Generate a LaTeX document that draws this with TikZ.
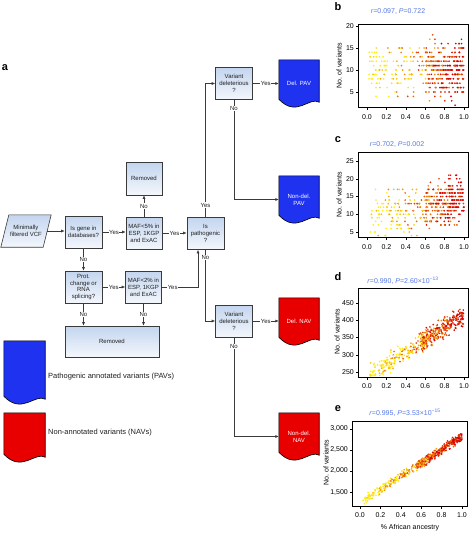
\documentclass[tikz,border=0pt]{standalone}
\usepackage{fontspec}
\setmainfont{Liberation Sans}
\usetikzlibrary{arrows.meta,calc,backgrounds}
\definecolor{linec}{HTML}{3A3A3A}
\definecolor{txtc}{HTML}{202020}
\definecolor{flowA}{HTML}{C3D5EF}
\definecolor{flowB}{HTML}{F4F7FC}
\definecolor{pavblue}{HTML}{1E32F0}
\definecolor{navred}{HTML}{E80000}
\definecolor{pred}{HTML}{D80000}
\definecolor{pyel}{HTML}{FFEE10}
\definecolor{ttlc}{HTML}{5577E6}
\newcommand{\docshape}[2]{\path[fill=#2,draw=black,line width=0.6pt] (#1.north west) -- (#1.north east) -- ($(#1.south east)+(0,-5)$) .. controls ($(#1.south east)+(-10,-11)$) and ($(#1.south west)+(18,11)$) .. ($(#1.south west)+(0,-8)$) -- cycle;}
\begin{document}
\begin{tikzpicture}[x=1pt,y=-1pt,
  fbox/.style={draw=linec,line width=0.6pt,top color=flowA,bottom color=flowB,minimum width=37pt,minimum height=32pt,inner sep=0.5pt,align=center,text=txtc,font=\fontsize{6}{6.9}\selectfont},
  conn/.style={draw=linec,line width=0.6pt,-{Latex[length=3.5pt,width=3pt]}},
  lab/.style={fill=white,inner sep=0.6pt,text=txtc,font=\fontsize{6}{7}\selectfont},
  docn/.style={minimum width=40pt,minimum height=47pt,inner sep=0pt,align=center,text=white,font=\fontsize{6}{7}\selectfont},
  tick/.style={font=\fontsize{7}{8}\selectfont,text=black},
  ttl/.style={font=\fontsize{7}{8}\selectfont,text=ttlc},
  plet/.style={font=\bfseries\fontsize{11}{12}\selectfont},
  axbox/.style={draw=black,line width=0.5pt},
  ylab/.style={font=\fontsize{7}{8}\selectfont,rotate=90}]
\useasboundingbox (0,0) rectangle (474,536);

% ---------- flowchart ----------
\node[plet] (la) at (5,68) {a};
\node[inner sep=0pt,minimum width=42pt,minimum height=32pt,align=center,text=txtc,font=\fontsize{6}{6.9}\selectfont] (vcf) at (26,231) {Minimally\\filtered VCF};
\node[fbox] (gene) at (83.5,232) {Is gene in\\databases?};
\node[fbox,minimum width=36pt] (maf5) at (144,233) {MAF<5\% in\\ESP, 1KGP\\and ExAC};
\node[fbox,minimum width=36pt,minimum height=33pt] (rem1) at (144,178.5) {Removed};
\node[fbox] (path) at (205.5,233.5) {Is\\pathogenic\\?};
\node[fbox] (vd1) at (234,83.5) {Variant\\deleterious\\?};
\node[fbox,font=\fontsize{6}{6.6}\selectfont] (prot) at (83.5,287) {Prot.\\change or\\RNA\\splicing?};
\node[fbox,minimum width=36pt] (maf2) at (143.5,287) {MAF<2\% in\\ESP, 1KGP\\and ExAC};
\node[fbox,minimum width=94pt,minimum height=31pt] (rem2) at (112,341.5) {Removed};
\node[fbox] (vd2) at (234,321) {Variant\\deleterious\\?};

\node[docn] (dpav) at (299,83.5) {Del. PAV};
\node[docn] (ndpav) at (299,199.5) {Non-del.\\PAV};
\node[docn] (dnav) at (299,321.5) {Del. NAV};
\node[docn] (ndnav) at (299,436.5) {Non-del.\\NAV};

\node[docn,minimum width=41pt,minimum height=63pt] (lpav) at (24.5,372.5) {};
\node[docn,minimum width=41pt,minimum height=49pt] (lnav) at (24.5,437.5) {};
\node[anchor=west,inner sep=0pt,text=txtc,font=\fontsize{7.5}{8}\selectfont] (lt1) at (48,377) {Pathogenic annotated variants (PAVs)};
\node[anchor=west,inner sep=0pt,text=txtc,font=\fontsize{7.5}{8}\selectfont] (lt2) at (48,433) {Non-annotated variants (NAVs)};

\begin{scope}[on background layer]
  \path[draw=linec,line width=0.6pt,top color=flowA,bottom color=flowB]
    ($(vcf.south west)+(-4,0)$) -- ($(vcf.north west)+(4,0)$) -- ($(vcf.north east)+(4,0)$) -- ($(vcf.south east)+(-4,0)$) -- cycle;
  \docshape{dpav}{pavblue}
  \docshape{ndpav}{pavblue}
  \docshape{dnav}{navred}
  \docshape{ndnav}{navred}
  \docshape{lpav}{pavblue}
  \docshape{lnav}{navred}
\end{scope}

\coordinate (pin) at ($(path.south)+(-7.5,0)$);
\draw[conn] (vcf.east) -- (vcf.east -| gene.west);
\draw[conn] (gene.east) -- node[lab]{Yes} (gene.east -| maf5.west);
\draw[conn] (gene.south) -- node[lab]{No} (prot.north);
\draw[conn] (maf5.east) -- node[lab]{Yes} (maf5.east -| path.west);
\draw[conn] (maf5.north) -- node[lab]{No} (rem1.south);
\draw[conn] (prot.east) -- node[lab]{Yes} (prot.east -| maf2.west);
\draw[conn] (prot.south) -- node[lab]{No} (prot.south |- rem2.north);
\draw[conn] (maf2.south) -- node[lab]{No} (maf2.south |- rem2.north);
\draw[conn] (maf2.east) -| node[lab,pos=0.15]{Yes} (pin);
\draw[conn] (path.north) |- node[lab,pos=0.045]{Yes} (vd1.west);
\draw[conn] (path.south) |- node[lab,pos=0.055]{No} (vd2.west);
\draw[conn] (vd1.east) -- node[lab]{Yes} (vd1.east -| dpav.west);
\draw[conn] (vd1.south) |- node[lab,pos=0.045]{No} (ndpav.west);
\draw[conn] (vd2.east) -- node[lab]{Yes} (vd2.east -| dnav.west);
\draw[conn] (vd2.south) |- node[lab,pos=0.045]{No} (ndnav.west);

% ---------- panel b ----------
\node[plet] (lb) at (338,7) {b};
\node[ttl] (tb) at (398,12) {\textit{r}=0.097, \textit{P}=0.722};
\node[ylab] (yb) at (339,66) {No. of variants};
\pgfmathsetseed{11}
\foreach \i in {1,...,430}{
  \pgfmathsetmacro{\xa}{rnd<0.3 ? 0.02+0.58*rnd : 0.6+0.4*rnd}
  \pgfmathsetmacro{\yv}{max(2,min(20,round(10+3.0*(rand+rand+rand))))}
  \pgfmathtruncatemacro{\p}{max(0,min(100,140*\xa-30+45*rand))}
  \fill[pred!\p!pyel] ({367+97*\xa},{92-4.4*(\yv-5)}) circle[radius=0.95pt];
}
\draw[axbox] (358,24) rectangle (468,107);
\foreach \v/\l [count=\k] in {0/0.0,0.2/0.2,0.4/0.4,0.6/0.6,0.8/0.8,1/1.0}{
  \draw[line width=0.4pt] ({367+97*\v},107) -- ({367+97*\v},109.5);
  \node[tick] (bx\k) at ({367+97*\v},117) {\l};
}
\foreach \v [count=\k] in {5,10,15,20}{
  \draw[line width=0.4pt] (358,{92-4.4*(\v-5)}) -- (355.5,{92-4.4*(\v-5)});
  \node[tick,anchor=east,inner sep=1pt] (by\k) at (355,{92-4.4*(\v-5)}) {\v};
}

% ---------- panel c ----------
\node[plet] (lc) at (338,140) {c};
\node[ttl] (tc) at (397,145) {\textit{r}=0.702, \textit{P}=0.002};
\node[ylab] (yc) at (339,195) {No. of variants};
\pgfmathsetseed{23}
\foreach \i in {1,...,430}{
  \pgfmathsetmacro{\xa}{rnd<0.35 ? 0.02+0.6*rnd : 0.6+0.4*rnd}
  \pgfmathsetmacro{\yv}{max(3,min(27,round(8.5+6*\xa+3.0*(rand+rand+rand))))}
  \pgfmathtruncatemacro{\p}{max(0,min(100,140*\xa-30+45*rand))}
  \fill[pred!\p!pyel] ({367+97*\xa},{232-3.55*(\yv-5)}) circle[radius=0.95pt];
}
\draw[axbox] (358,152) rectangle (468,237);
\foreach \v/\l [count=\k] in {0/0.0,0.2/0.2,0.4/0.4,0.6/0.6,0.8/0.8,1/1.0}{
  \draw[line width=0.4pt] ({367+97*\v},237) -- ({367+97*\v},239.5);
  \node[tick] (cx\k) at ({367+97*\v},247) {\l};
}
\foreach \v [count=\k] in {5,10,15,20,25}{
  \draw[line width=0.4pt] (358,{232-3.55*(\v-5)}) -- (355.5,{232-3.55*(\v-5)});
  \node[tick,anchor=east,inner sep=1pt] (cy\k) at (355,{232-3.55*(\v-5)}) {\v};
}

% ---------- panel d ----------
\node[plet] (ld) at (338,277) {d};
\node[ttl] (td) at (403,281) {\textit{r}=0.990, \textit{P}=2.60×10\textsuperscript{−13}};
\node[ylab] (yd) at (337,332) {No. of variants};
\pgfmathsetseed{37}
\foreach \i in {1,...,480}{
  \pgfmathsetmacro{\xa}{rnd<0.4 ? 0.03+0.6*rnd : 0.55+0.45*rnd}
  \pgfmathsetmacro{\yv}{max(240,min(490,235+180*\xa+14*(rand+rand+rand)))}
  \pgfmathtruncatemacro{\p}{max(0,min(100,140*\xa-30+45*rand))}
  \fill[pred!\p!pyel] ({367+97*\xa},{372-0.345*(\yv-250)}) circle[radius=0.95pt];
}
\draw[axbox] (358,288) rectangle (468,377);
\foreach \v/\l [count=\k] in {0/0.0,0.2/0.2,0.4/0.4,0.6/0.6,0.8/0.8,1/1.0}{
  \draw[line width=0.4pt] ({367+97*\v},377) -- ({367+97*\v},379.5);
  \node[tick] (dx\k) at ({367+97*\v},386) {\l};
}
\foreach \v [count=\k] in {250,300,350,400,450}{
  \draw[line width=0.4pt] (358,{372-0.345*(\v-250)}) -- (355.5,{372-0.345*(\v-250)});
  \node[tick,anchor=east,inner sep=1pt] (dy\k) at (355,{372-0.345*(\v-250)}) {\v};
}

% ---------- panel e ----------
\node[plet] (le) at (338,409) {e};
\node[ttl] (te) at (405,413) {\textit{r}=0.995, \textit{P}=3.53×10\textsuperscript{−15}};
\node[ylab] (ye) at (326,463) {No. of variants};
\pgfmathsetseed{51}
\foreach \i in {1,...,480}{
  \pgfmathsetmacro{\xa}{rnd<0.4 ? 0.03+0.6*rnd : 0.55+0.45*rnd}
  \pgfmathsetmacro{\yv}{max(1180,min(3050,1240+1580*\xa+50*(rand+rand+rand)))}
  \pgfmathtruncatemacro{\p}{max(0,min(100,140*\xa-30+45*rand))}
  \fill[pred!\p!pyel] ({360+102*\xa},{492-0.042*(\yv-1500)}) circle[radius=0.95pt];
}
\draw[axbox] (352,421) rectangle (467,506);
\foreach \v/\l [count=\k] in {0/0.0,0.2/0.2,0.4/0.4,0.6/0.6,0.8/0.8,1/1.0}{
  \draw[line width=0.4pt] ({360+102*\v},506) -- ({360+102*\v},508.5);
  \node[tick] (ex\k) at ({360+102*\v},515) {\l};
}
\foreach \v/\l [count=\k] in {1500/{1,500},2000/{2,000},2500/{2,500},3000/{3,000}}{
  \draw[line width=0.4pt] (352,{492-0.042*(\v-1500)}) -- (349.5,{492-0.042*(\v-1500)});
  \node[tick,anchor=east,inner sep=1pt] (ey\k) at (349,{492-0.042*(\v-1500)}) {\l};
}
\node[tick] (xe) at (410,528) {\% African ancestry};
\end{tikzpicture}
\end{document}
